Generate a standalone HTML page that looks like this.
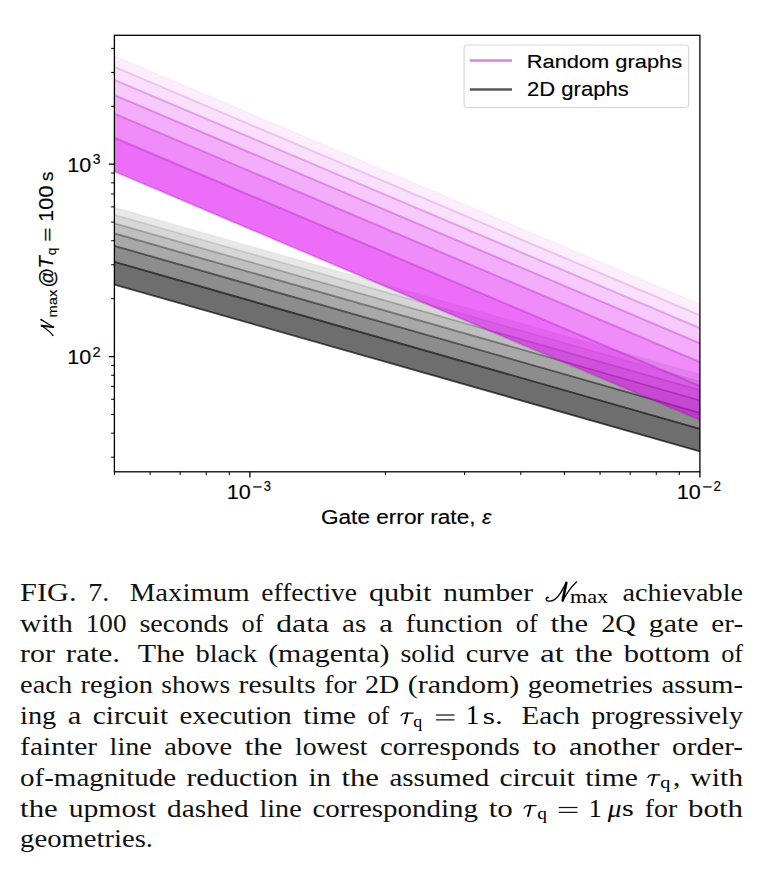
<!DOCTYPE html>
<html><head><meta charset="utf-8"><title>FIG. 7</title>
<style>
html,body{margin:0;padding:0;background:#fff;}
body{width:768px;height:871px;overflow:hidden;position:relative;}
svg{position:absolute;left:0;top:0;}
.chart text{stroke:#000;stroke-width:0.15px;}
</style></head>
<body>
<svg width="768" height="871" viewBox="0 0 768 871">
<defs><clipPath id="ax"><rect x="114.4" y="35.3" width="585.50" height="436.50"/></clipPath></defs>
<g class="chart" font-family="Liberation Sans, sans-serif">
<g clip-path="url(#ax)">
<polygon points="114.40,284.53 699.90,451.41 699.90,428.83 114.40,261.95" fill="#000" fill-opacity="0.57"/>
<polygon points="114.40,261.95 699.90,428.83 699.90,412.80 114.40,245.92" fill="#000" fill-opacity="0.45"/>
<polygon points="114.40,245.92 699.90,412.80 699.90,400.37 114.40,233.49" fill="#000" fill-opacity="0.34"/>
<polygon points="114.40,233.49 699.90,400.37 699.90,390.21 114.40,223.33" fill="#000" fill-opacity="0.25"/>
<polygon points="114.40,223.33 699.90,390.21 699.90,381.63 114.40,214.75" fill="#000" fill-opacity="0.16"/>
<polygon points="114.40,214.75 699.90,381.63 699.90,374.19 114.40,207.31" fill="#000" fill-opacity="0.09"/>
<line x1="114.40" y1="284.53" x2="699.90" y2="451.41" stroke="#000" stroke-opacity="0.68" stroke-width="1.8"/>
<line x1="114.40" y1="261.95" x2="699.90" y2="428.83" stroke="#000" stroke-opacity="0.62" stroke-width="1.8"/>
<line x1="114.40" y1="245.92" x2="699.90" y2="412.80" stroke="#000" stroke-opacity="0.5" stroke-width="1.8"/>
<line x1="114.40" y1="233.49" x2="699.90" y2="400.37" stroke="#000" stroke-opacity="0.36" stroke-width="1.8"/>
<line x1="114.40" y1="223.33" x2="699.90" y2="390.21" stroke="#000" stroke-opacity="0.22" stroke-width="1.8"/>
<line x1="114.40" y1="214.75" x2="699.90" y2="381.63" stroke="#000" stroke-opacity="0.1" stroke-width="1.8"/>
<line x1="114.40" y1="207.31" x2="699.90" y2="374.19" stroke="#000" stroke-opacity="0.03" stroke-width="1.8"/>
<polygon points="114.40,171.62 699.90,419.94 699.90,386.06 114.40,137.74" fill="#de00f3" fill-opacity="0.57"/>
<polygon points="114.40,137.74 699.90,386.06 699.90,362.02 114.40,113.70" fill="#de00f3" fill-opacity="0.45"/>
<polygon points="114.40,113.70 699.90,362.02 699.90,343.37 114.40,95.06" fill="#de00f3" fill-opacity="0.32"/>
<polygon points="114.40,95.06 699.90,343.37 699.90,328.14 114.40,79.82" fill="#de00f3" fill-opacity="0.21"/>
<polygon points="114.40,79.82 699.90,328.14 699.90,315.26 114.40,66.94" fill="#de00f3" fill-opacity="0.12"/>
<polygon points="114.40,66.94 699.90,315.26 699.90,304.10 114.40,55.79" fill="#de00f3" fill-opacity="0.065"/>
<line x1="114.40" y1="171.62" x2="699.90" y2="419.94" stroke="#9a10b0" stroke-opacity="0.28" stroke-width="2.0"/>
<line x1="114.40" y1="137.74" x2="699.90" y2="386.06" stroke="#9a10b0" stroke-opacity="0.34" stroke-width="2.0"/>
<line x1="114.40" y1="113.70" x2="699.90" y2="362.02" stroke="#9a10b0" stroke-opacity="0.32" stroke-width="2.0"/>
<line x1="114.40" y1="95.06" x2="699.90" y2="343.37" stroke="#9a10b0" stroke-opacity="0.3" stroke-width="2.0"/>
<line x1="114.40" y1="79.82" x2="699.90" y2="328.14" stroke="#9a10b0" stroke-opacity="0.26" stroke-width="2.0"/>
<line x1="114.40" y1="66.94" x2="699.90" y2="315.26" stroke="#9a10b0" stroke-opacity="0.17" stroke-width="2.0"/>
<line x1="114.40" y1="55.79" x2="699.90" y2="304.10" stroke="#9a10b0" stroke-opacity="0.03" stroke-width="2.0"/>
</g>
<rect x="114.4" y="35.3" width="585.50" height="436.50" fill="none" stroke="#000" stroke-width="1.3"/>
<path d="M108.80 356.60H114.40 M108.80 164.20H114.40 M249.90 471.80V477.40 M699.90 471.80V477.40" stroke="#000" stroke-width="1.3" fill="none"/>
<path d="M111.10 457.20H114.40 M111.10 433.16H114.40 M111.10 414.52H114.40 M111.10 399.28H114.40 M111.10 386.40H114.40 M111.10 375.25H114.40 M111.10 365.40H114.40 M111.10 298.68H114.40 M111.10 264.80H114.40 M111.10 240.76H114.40 M111.10 222.12H114.40 M111.10 206.88H114.40 M111.10 194.00H114.40 M111.10 182.85H114.40 M111.10 173.00H114.40 M111.10 106.28H114.40 M111.10 72.40H114.40 M111.10 48.36H114.40 M114.44 471.80V475.10 M150.07 471.80V475.10 M180.19 471.80V475.10 M206.29 471.80V475.10 M229.31 471.80V475.10 M385.36 471.80V475.10 M464.60 471.80V475.10 M520.83 471.80V475.10 M564.44 471.80V475.10 M600.07 471.80V475.10 M630.19 471.80V475.10 M656.29 471.80V475.10 M679.31 471.80V475.10" stroke="#000" stroke-width="1.0" fill="none"/>
<text transform="translate(67.19 171.70) scale(1.0869 1)" font-family="Liberation Sans" font-style="normal" font-size="19.86" fill="#000" xml:space="preserve">10</text>
<text transform="translate(92.74 164.06) scale(0.9812 1)" font-family="Liberation Sans" font-style="normal" font-size="14.23" fill="#000" xml:space="preserve">3</text>
<text transform="translate(67.19 363.70) scale(1.1025 1)" font-family="Liberation Sans" font-style="normal" font-size="19.58" fill="#000" xml:space="preserve">10</text>
<text transform="translate(92.57 356.90) scale(1.0196 1)" font-family="Liberation Sans" font-style="normal" font-size="14.29" fill="#000" xml:space="preserve">2</text>
<text transform="translate(226.68 498.55) scale(1.0804 1)" font-family="Liberation Sans" font-style="normal" font-size="20.07" fill="#000" xml:space="preserve">10</text>
<rect x="253.20" y="486.3" width="8.4" height="1.25" fill="#000"/>
<text transform="translate(263.68 491.11) scale(0.9310 1)" font-family="Liberation Sans" font-style="normal" font-size="13.87" fill="#000" xml:space="preserve">3</text>
<text transform="translate(676.68 498.55) scale(1.0804 1)" font-family="Liberation Sans" font-style="normal" font-size="20.07" fill="#000" xml:space="preserve">10</text>
<rect x="703.20" y="486.3" width="8.4" height="1.25" fill="#000"/>
<text transform="translate(713.53 491.25) scale(0.9578 1)" font-family="Liberation Sans" font-style="normal" font-size="14.07" fill="#000" xml:space="preserve">2</text>
<text transform="translate(320.97 523.55) scale(1.1592 1)" font-family="Liberation Sans" font-style="normal" font-size="19.51" fill="#000" xml:space="preserve">Gate error rate,</text>
<text transform="translate(481.99 524.40) scale(1.0780 1)" font-family="Liberation Sans" font-style="italic" font-size="19.82" fill="#000" xml:space="preserve">ε</text>
<rect x="464.1" y="45.0" width="224.6" height="62.5" rx="3.5" ry="3.5" fill="#fff" fill-opacity="0.8" stroke="#d6d6d6" stroke-width="1.1"/>
<line x1="469.8" y1="60.5" x2="512.0" y2="60.5" stroke="#d584df" stroke-width="2.6"/>
<line x1="469.8" y1="89.5" x2="512.0" y2="89.5" stroke="#585858" stroke-width="2.6"/>
<text transform="translate(526.75 67.80) scale(1.1496 1)" font-family="Liberation Sans" font-style="normal" font-size="19.00" fill="#000" xml:space="preserve">Random graphs</text>
<text transform="translate(527.00 96.40) scale(1.1038 1)" font-family="Liberation Sans" font-style="normal" font-size="20.00" fill="#000" xml:space="preserve">2D graphs</text>
<text transform="translate(53.3 340.0) rotate(-90) translate(22.41 3.40) scale(1.0880 1)" font-family="Liberation Sans" font-style="normal" font-size="13.58" fill="#000" xml:space="preserve">max</text>
<text transform="translate(53.3 340.0) rotate(-90) translate(52.46 0.92) scale(0.9731 1)" font-family="Liberation Sans" font-style="normal" font-size="19.83" fill="#000" xml:space="preserve">@</text>
<text transform="translate(53.3 340.0) rotate(-90) translate(71.48 -0.19) scale(1.0421 1)" font-family="Liberation Sans" font-style="italic" font-size="19.36" fill="#000" xml:space="preserve">T</text>
<text transform="translate(53.3 340.0) rotate(-90) translate(84.76 3.17) scale(1.0066 1)" font-family="Liberation Sans" font-style="normal" font-size="13.47" fill="#000" xml:space="preserve">q</text>
<text transform="translate(53.3 340.0) rotate(-90) translate(98.13 0.14) scale(1.4011 1)" font-family="Liberation Sans" font-style="normal" font-size="17.27" fill="#000" xml:space="preserve">=</text>
<text transform="translate(53.3 340.0) rotate(-90) translate(118.28 -0.09) scale(1.1180 1)" font-family="Liberation Sans" font-style="normal" font-size="19.44" fill="#000" xml:space="preserve">100</text>
<text transform="translate(53.3 340.0) rotate(-90) translate(158.71 -0.08) scale(1.0750 1)" font-family="Liberation Sans" font-style="normal" font-size="18.18" fill="#000" xml:space="preserve">s</text>
<g transform="matrix(0 -1 1 0 53.5 336.3)" fill="none" stroke="#000" stroke-linecap="round"><path d="M0.9 -0.7 C4.0 -2.5 8.0 -8.0 10.6 -11.9" stroke-width="1.1"/><path d="M10.6 -11.9 L9.3 -0.4" stroke-width="2.1"/><path d="M9.3 -0.4 C11.5 -4.0 14.5 -9.0 16.8 -12.4" stroke-width="1.1"/><circle cx="1.0" cy="-0.8" r="0.9" fill="#000" stroke="none"/><circle cx="16.6" cy="-12.3" r="0.9" fill="#000" stroke="none"/></g>
</g>
<g font-family="Liberation Serif, serif" fill="#111">
<text transform="translate(20.10 600.70) scale(1.1646 1)" font-size="26.0" font-style="normal">FIG.</text>
<text transform="translate(88.26 600.70) scale(1.0831 1)" font-size="26.0" font-style="normal">7.</text>
<text transform="translate(129.72 600.70) scale(1.1059 1)" font-size="26.0" font-style="normal">Maximum</text>
<text transform="translate(261.32 600.70) scale(1.0586 1)" font-size="26.0" font-style="normal">effective</text>
<text transform="translate(368.88 600.70) scale(1.1706 1)" font-size="26.0" font-style="normal">qubit</text>
<text transform="translate(443.24 600.70) scale(1.1298 1)" font-size="26.0" font-style="normal">number</text>
<text transform="translate(622.48 600.70) scale(1.0852 1)" font-size="26.0" font-style="normal">achievable</text>
<text transform="translate(20.10 631.53) scale(1.1416 1)" font-size="26.0" font-style="normal">with</text>
<text transform="translate(85.78 631.53) scale(1.0438 1)" font-size="26.0" font-style="normal">100</text>
<text transform="translate(139.39 631.53) scale(1.0840 1)" font-size="26.0" font-style="normal">seconds</text>
<text transform="translate(241.53 631.53) scale(1.0091 1)" font-size="26.0" font-style="normal">of</text>
<text transform="translate(276.29 631.53) scale(1.2186 1)" font-size="26.0" font-style="normal">data</text>
<text transform="translate(341.97 631.53) scale(1.1201 1)" font-size="26.0" font-style="normal">as</text>
<text transform="translate(379.13 631.53) scale(1.1757 1)" font-size="26.0" font-style="normal">a</text>
<text transform="translate(405.61 631.53) scale(1.1224 1)" font-size="26.0" font-style="normal">function</text>
<text transform="translate(515.77 631.53) scale(1.0091 1)" font-size="26.0" font-style="normal">of</text>
<text transform="translate(550.53 631.53) scale(1.1868 1)" font-size="26.0" font-style="normal">the</text>
<text transform="translate(601.13 631.53) scale(1.0908 1)" font-size="26.0" font-style="normal">2Q</text>
<text transform="translate(648.70 631.53) scale(1.1491 1)" font-size="26.0" font-style="normal">gate</text>
<text transform="translate(711.37 631.53) scale(1.1199 1)" font-size="26.0" font-style="normal">er-</text>
<text transform="translate(20.10 662.36) scale(1.1477 1)" font-size="26.0" font-style="normal">ror</text>
<text transform="translate(65.80 662.36) scale(1.1956 1)" font-size="26.0" font-style="normal">rate.</text>
<text transform="translate(137.80 662.36) scale(1.1560 1)" font-size="26.0" font-style="normal">The</text>
<text transform="translate(195.43 662.36) scale(1.0976 1)" font-size="26.0" font-style="normal">black</text>
<text transform="translate(268.14 662.36) scale(1.1516 1)" font-size="26.0" font-style="normal">(magenta)</text>
<text transform="translate(400.40 662.36) scale(1.0765 1)" font-size="26.0" font-style="normal">solid</text>
<text transform="translate(465.74 662.36) scale(1.0973 1)" font-size="26.0" font-style="normal">curve</text>
<text transform="translate(540.00 662.36) scale(1.2859 1)" font-size="26.0" font-style="normal">at</text>
<text transform="translate(575.04 662.36) scale(1.1868 1)" font-size="26.0" font-style="normal">the</text>
<text transform="translate(623.64 662.36) scale(1.1768 1)" font-size="26.0" font-style="normal">bottom</text>
<text transform="translate(721.24 662.36) scale(1.0091 1)" font-size="26.0" font-style="normal">of</text>
<text transform="translate(20.10 693.19) scale(1.0921 1)" font-size="26.0" font-style="normal">each</text>
<text transform="translate(80.49 693.19) scale(1.0906 1)" font-size="26.0" font-style="normal">region</text>
<text transform="translate(161.31 693.19) scale(1.0590 1)" font-size="26.0" font-style="normal">shows</text>
<text transform="translate(238.54 693.19) scale(1.1379 1)" font-size="26.0" font-style="normal">results</text>
<text transform="translate(324.17 693.19) scale(1.0710 1)" font-size="26.0" font-style="normal">for</text>
<text transform="translate(365.02 693.19) scale(1.0792 1)" font-size="26.0" font-style="normal">2D</text>
<text transform="translate(407.69 693.19) scale(1.1538 1)" font-size="26.0" font-style="normal">(random)</text>
<text transform="translate(527.69 693.19) scale(1.0989 1)" font-size="26.0" font-style="normal">geometries</text>
<text transform="translate(661.42 693.19) scale(1.1089 1)" font-size="26.0" font-style="normal">assum-</text>
<text transform="translate(20.10 724.02) scale(1.0893 1)" font-size="26.0" font-style="normal">ing</text>
<text transform="translate(67.68 724.02) scale(1.1757 1)" font-size="26.0" font-style="normal">a</text>
<text transform="translate(92.64 724.02) scale(1.1365 1)" font-size="26.0" font-style="normal">circuit</text>
<text transform="translate(179.50 724.02) scale(1.1114 1)" font-size="26.0" font-style="normal">execution</text>
<text transform="translate(303.22 724.02) scale(1.1420 1)" font-size="26.0" font-style="normal">time</text>
<text transform="translate(367.38 724.02) scale(1.0091 1)" font-size="26.0" font-style="normal">of</text>
<text transform="translate(521.41 724.02) scale(1.1238 1)" font-size="26.0" font-style="normal">Each</text>
<text transform="translate(591.19 724.02) scale(1.0844 1)" font-size="26.0" font-style="normal">progressively</text>
<text transform="translate(20.10 754.85) scale(1.1343 1)" font-size="26.0" font-style="normal">fainter</text>
<text transform="translate(109.59 754.85) scale(1.0834 1)" font-size="26.0" font-style="normal">line</text>
<text transform="translate(164.37 754.85) scale(1.0924 1)" font-size="26.0" font-style="normal">above</text>
<text transform="translate(244.72 754.85) scale(1.1868 1)" font-size="26.0" font-style="normal">the</text>
<text transform="translate(294.96 754.85) scale(1.0679 1)" font-size="26.0" font-style="normal">lowest</text>
<text transform="translate(379.98 754.85) scale(1.1133 1)" font-size="26.0" font-style="normal">corresponds</text>
<text transform="translate(532.39 754.85) scale(1.1929 1)" font-size="26.0" font-style="normal">to</text>
<text transform="translate(569.05 754.85) scale(1.1611 1)" font-size="26.0" font-style="normal">another</text>
<text transform="translate(672.11 754.85) scale(1.1269 1)" font-size="26.0" font-style="normal">order-</text>
<text transform="translate(20.10 785.68) scale(1.1141 1)" font-size="26.0" font-style="normal">of-magnitude</text>
<text transform="translate(186.47 785.68) scale(1.1371 1)" font-size="26.0" font-style="normal">reduction</text>
<text transform="translate(308.44 785.68) scale(1.1185 1)" font-size="26.0" font-style="normal">in</text>
<text transform="translate(341.38 785.68) scale(1.1868 1)" font-size="26.0" font-style="normal">the</text>
<text transform="translate(389.40 785.68) scale(1.1142 1)" font-size="26.0" font-style="normal">assumed</text>
<text transform="translate(499.49 785.68) scale(1.1365 1)" font-size="26.0" font-style="normal">circuit</text>
<text transform="translate(585.29 785.68) scale(1.1420 1)" font-size="26.0" font-style="normal">time</text>
<text transform="translate(690.33 785.68) scale(1.1416 1)" font-size="26.0" font-style="normal">with</text>
<text transform="translate(20.10 816.51) scale(1.1868 1)" font-size="26.0" font-style="normal">the</text>
<text transform="translate(68.64 816.51) scale(1.1437 1)" font-size="26.0" font-style="normal">upmost</text>
<text transform="translate(167.05 816.51) scale(1.1295 1)" font-size="26.0" font-style="normal">dashed</text>
<text transform="translate(259.44 816.51) scale(1.0834 1)" font-size="26.0" font-style="normal">line</text>
<text transform="translate(312.52 816.51) scale(1.1118 1)" font-size="26.0" font-style="normal">corresponding</text>
<text transform="translate(488.73 816.51) scale(1.1929 1)" font-size="26.0" font-style="normal">to</text>
<text transform="translate(644.74 816.51) scale(1.0710 1)" font-size="26.0" font-style="normal">for</text>
<text transform="translate(688.06 816.51) scale(1.1907 1)" font-size="26.0" font-style="normal">both</text>
<text transform="translate(20.10 847.34) scale(1.1022 1)" font-size="26.0" font-style="normal">geometries.</text>
<g transform="translate(540 576)" fill="none" stroke="#000" stroke-linecap="round"><path d="M7.6 21.3 C5.6 21.6 5.3 24.6 8.3 25.1 C12.8 25.8 17.6 21.4 20.6 16.8 C23.0 13.0 24.6 9.6 26.3 6.8" stroke-width="1.35"/><path d="M26.3 6.8 L22.7 24.6" stroke-width="2.6"/><path d="M22.7 24.6 C25.8 19.0 31.0 11.0 36.7 5.8" stroke-width="1.25"/></g>
<circle cx="547.9" cy="597.6" r="1.1"/>
<text transform="translate(569.96 603.40) scale(1.2448 1)" font-family="Liberation Serif" font-style="normal" font-size="17.83" fill="#000" xml:space="preserve">max</text>
<g transform="translate(400.60 724.02)" fill="none" stroke="#000" stroke-linecap="round"><path d="M0.5 -8.3 C1.3 -10.1 2.4 -10.9 4.0 -10.9 L12.6 -10.9" stroke-width="1.25"/><path d="M6.9 -10.7 C6.3 -7.0 5.2 -3.2 4.4 -0.5" stroke-width="1.9"/></g>
<text transform="translate(413.36 726.72) scale(1.0481 1)" font-family="Liberation Serif" font-style="normal" font-size="17.17" fill="#000" xml:space="preserve">q</text>
<rect x="435.90" y="714.42" width="18.60" height="1.2"/><rect x="435.90" y="719.27" width="18.60" height="1.2"/>
<text transform="translate(465.82 724.02) scale(1.0208 1)" font-family="Liberation Serif" font-style="normal" font-size="26.67" fill="#000" xml:space="preserve">1</text>
<text transform="translate(482.85 723.78) scale(1.3177 1)" font-family="Liberation Serif" font-style="normal" font-size="23.75" fill="#000" xml:space="preserve">s.</text>
<g transform="translate(647.40 785.68)" fill="none" stroke="#000" stroke-linecap="round"><path d="M0.5 -8.3 C1.3 -10.1 2.4 -10.9 4.0 -10.9 L12.6 -10.9" stroke-width="1.25"/><path d="M6.9 -10.7 C6.3 -7.0 5.2 -3.2 4.4 -0.5" stroke-width="1.9"/></g>
<text transform="translate(660.19 788.38) scale(1.1775 1)" font-family="Liberation Serif" font-style="normal" font-size="17.17" fill="#000" xml:space="preserve">q</text>
<text transform="translate(673.00 785.68) scale(1.1287 1)" font-size="26.0" font-style="normal">,</text>
<g transform="translate(523.60 816.51)" fill="none" stroke="#000" stroke-linecap="round"><path d="M0.5 -8.3 C1.3 -10.1 2.4 -10.9 4.0 -10.9 L12.6 -10.9" stroke-width="1.25"/><path d="M6.9 -10.7 C6.3 -7.0 5.2 -3.2 4.4 -0.5" stroke-width="1.9"/></g>
<text transform="translate(537.21 819.21) scale(1.1387 1)" font-family="Liberation Serif" font-style="normal" font-size="17.17" fill="#000" xml:space="preserve">q</text>
<rect x="558.80" y="806.91" width="18.70" height="1.2"/><rect x="558.80" y="811.76" width="18.70" height="1.2"/>
<text transform="translate(588.83 816.51) scale(1.0083 1)" font-family="Liberation Serif" font-style="normal" font-size="25.62" fill="#000" xml:space="preserve">1</text>
<text transform="translate(607.70 816.66) scale(1.1126 1)" font-family="Liberation Serif" font-style="italic" font-size="24.48" fill="#000" xml:space="preserve">μ</text>
<text transform="translate(622.09 816.27) scale(1.2641 1)" font-family="Liberation Serif" font-style="normal" font-size="23.98" fill="#000" xml:space="preserve">s</text>
</g>
</svg>
</body></html>
